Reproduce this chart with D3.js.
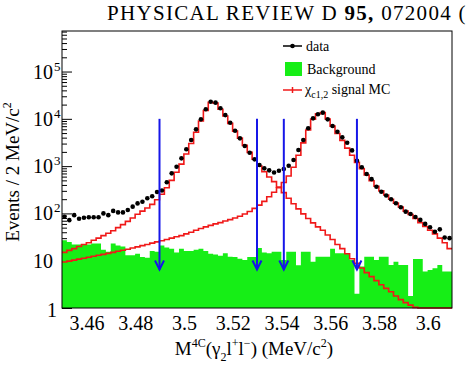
<!DOCTYPE html>
<html>
<head>
<meta charset="utf-8">
<script src="https://cdn.jsdelivr.net/npm/d3@7"></script>
<style>
  body { margin: 0; background: #fff; }
  svg { display: block; font-family: "Liberation Serif", "Times New Roman", serif; }
</style>
</head>
<body>
<div id="chart"></div>
<script>
// 80 bins of 2 MeV/c^2 from 3.45 to 3.61
const binStart = 3.45
const binWidth = 0.002

const dataCounts = [
  85, 72, 92, 77, 81, 83, 83, 83, 100, 92,
  113, 105, 105, 118, 139, 163, 177, 209, 230, 284,
  306, 455, 704, 971, 1460, 2270, 3560, 6000, 9750, 15900,
  23000, 22000, 16700, 12000, 8280, 5600, 3870, 2660, 1920, 1390,
  1055, 898, 815, 735, 800, 868, 1020, 1345, 2190, 3560,
  6300, 10250, 12500, 13500, 9750, 7040, 5340, 4060, 3125, 2150,
  1300, 950, 680, 530, 367, 288, 239, 199, 164, 135,
  109, 97, 84, 73, 60, 51, 41, 46, 31, 30
]

const chic1MC = [
  15, 16.5, 18, 20, 22, 24, 27, 30, 34, 38,
  43, 50, 58, 68, 80, 96, 112, 130, 155, 195,
  255, 350, 500, 740, 1100, 1800, 3000, 5200, 9000, 15000,
  22500, 21500, 16000, 11500, 8000, 5500, 3900, 2750, 1950, 1400,
  1000, 760, 590, 470, 360, 275, 210, 160, 125, 98,
  78, 63, 52, 44, 35, 28, 22, 18, 14, 11,
  8.8, 7, 5.6, 4.6, 3.8, 3.1, 2.6, 2.2, 1.8, 1.5,
  1.3, 1.15, 1.03, 0.95, 0.85, 0.75, 0.7, 0.62, 0.55, 0.5
]

const chic2MC = [
  9.4, 9.8, 10.3, 10.8, 11.3, 11.8, 12.4, 13, 13.6, 14.3,
  15, 15.8, 16.6, 17.5, 18.5, 19.6, 20.8, 22, 23.5, 25,
  26.5, 28, 30, 32, 34, 37, 40, 44, 48, 52,
  56, 60, 64, 69, 74, 80, 87, 97, 110, 128,
  150, 180, 225, 280, 350, 450, 620, 950, 1700, 3100,
  5800, 9800, 12800, 13500, 9900, 7000, 4900, 3500, 2400, 1700,
  1200, 880, 650, 490, 375, 300, 245, 200, 165, 137,
  112, 95, 78, 64, 53, 44, 37, 30, 24, 18
]

const background = [
  27, 25, 22, 22, 22, 22, 23, 23, 17, 15.5,
  23, 21, 20, 13, 13, 14, 12, 11.6, 16, 15.5,
  21, 19, 18, 15, 18, 16, 16, 17, 18, 16,
  14, 13.6, 12.8, 14.3, 12.2, 12, 11, 10.3, 12, 12,
  18.5, 15, 14.4, 15.5, 15.5, 10.3, 15.5, 15.5, 8, 15.5,
  15.5, 9.5, 12.2, 12.2, 12.2, 18, 14.4, 14.4, 14.4, 10.3,
  2, 7.5, 12.2, 12.2, 10.3, 12.2, 12.2, 8.1, 9.5, 8.1,
  8.1, 1.8, 10.9, 10.9, 5.9, 6.4, 6.9, 8.1, 5.9, 5.9
]

// mass window cuts shown as arrows
const cutMasses = [3.490, 3.530, 3.541, 3.571]
const arrowTop = 1e4
const arrowTip = 6.5

const xTicks = [3.46, 3.48, 3.50, 3.52, 3.54, 3.56, 3.58, 3.60]
const xTickLabels = ["3.46", "3.48", "3.5", "3.52", "3.54", "3.56", "3.58", "3.6"]
const yDecades = [1, 10, 100, 1000, 10000, 100000]

const width = 474, height = 370
const margin = { top: 31, right: 22, bottom: 62, left: 62 }
const innerRight = width - margin.right
const innerBottom = height - margin.bottom

const svg = d3.select("#chart")
  .append("svg")
  .attr("width", width)
  .attr("height", height)

svg.append("rect").attr("width", width).attr("height", height).attr("fill", "#fff")

const x = d3.scaleLinear()
  .domain([3.45, 3.61])
  .range([margin.left, innerRight])

const y = d3.scaleLog()
  .domain([1, 7.2e5])
  .range([innerBottom, margin.top])

// values below the axis minimum get drawn on the bottom edge
const yc = v => y(Math.max(v, 1))

const steps = vals => {
  const pts = []
  vals.forEach((v, i) => {
    const lo = binStart + i * binWidth
    pts.push([lo, v], [lo + binWidth, v])
  })
  return pts
}

// Left axis ticks (drawn under the histogram, as ROOT does)
const minorTicks = []
for (let p = 0; p <= 5; p++) {
  for (let k = 2; k <= 9; k++) {
    const v = k * Math.pow(10, p)
    if (v < 7.2e5) minorTicks.push(v)
  }
}

const tickG = svg.append("g").attr("transform", `translate(${margin.left},0)`)
tickG.call(d3.axisLeft(y).tickValues(minorTicks).tickSize(-5).tickFormat(""))
tickG.append("g").call(d3.axisLeft(y).tickValues(yDecades).tickSize(-10).tickFormat(""))
tickG.selectAll(".domain").remove()
tickG.selectAll("line").attr("stroke", "#000")

// Background histogram
svg.append("path")
  .datum(steps(background))
  .attr("fill", "#16ee16")
  .attr("d", d3.area()
    .x(d => x(d[0]))
    .y0(y(1))
    .y1(d => yc(d[1])))

// Signal MC histograms
const stepLine = d3.line()
  .x(d => x(d[0]))
  .y(d => yc(d[1]))

;[chic1MC, chic2MC].forEach(vals => {
  svg.append("path")
    .datum(steps(vals))
    .attr("fill", "none")
    .attr("stroke", "#f01818")
    .attr("stroke-width", 1.6)
    .attr("d", stepLine)
})

// Data points
svg.append("g")
  .selectAll("circle")
  .data(dataCounts)
  .join("circle")
  .attr("cx", (d, i) => x(binStart + (i + 0.5) * binWidth))
  .attr("cy", d => y(d))
  .attr("r", 2.3)
  .attr("fill", "#000")

// Arrows
const arrows = svg.append("g")
  .attr("stroke", "#1616e8")
  .attr("stroke-width", 2)
  .attr("fill", "none")

cutMasses.forEach(m => {
  const ax = x(m)
  const tip = y(arrowTip)
  arrows.append("line")
    .attr("x1", ax).attr("x2", ax)
    .attr("y1", y(arrowTop)).attr("y2", tip)
  arrows.append("path")
    .attr("d", `M${ax - 4.5},${tip - 9}L${ax},${tip}L${ax + 4.5},${tip - 9}`)
})

// Frame
svg.append("rect")
  .attr("x", margin.left)
  .attr("y", margin.top)
  .attr("width", innerRight - margin.left)
  .attr("height", innerBottom - margin.top)
  .attr("fill", "none")
  .attr("stroke", "#000")
  .attr("stroke-width", 1)

// X tick labels
const xAxis = svg.append("g")
  .attr("transform", `translate(0,${innerBottom})`)
  .call(d3.axisBottom(x).tickValues(xTicks).tickSize(0).tickPadding(8)
    .tickFormat((d, i) => xTickLabels[i]))
xAxis.select(".domain").remove()
xAxis.selectAll("text")
  .attr("font-family", "Liberation Serif, serif")
  .attr("font-size", 20)
  .attr("fill", "#000")

// Y tick labels with superscript exponents
yDecades.forEach(v => {
  const ty = y(v) + 7
  const exp = Math.round(Math.log10(v))
  if (exp === 0) {
    svg.append("text").attr("x", 57).attr("y", ty + 2)
      .attr("text-anchor", "end").attr("font-size", 20).text("1")
  } else {
    svg.append("text").attr("x", 53).attr("y", ty)
      .attr("text-anchor", "end").attr("font-size", 20).text("10")
    if (exp > 1) {
      svg.append("text").attr("x", 54).attr("y", ty - 8)
        .attr("font-size", 13).text(exp)
    }
  }
})

// Axis titles
const xt = svg.append("text")
  .attr("x", 254).attr("y", 355)
  .attr("text-anchor", "middle")
  .attr("font-size", 19)
xt.append("tspan").text("M")
xt.append("tspan").attr("dy", -8).attr("font-size", 12).text("4C")
xt.append("tspan").attr("dy", 8).text("(γ")
xt.append("tspan").attr("dy", 6).attr("font-size", 12).text("2")
xt.append("tspan").attr("dy", -6).text("l")
xt.append("tspan").attr("dy", -8).attr("font-size", 12).text("+")
xt.append("tspan").attr("dy", 8).text("l")
xt.append("tspan").attr("dy", -8).attr("font-size", 12).text("−")
xt.append("tspan").attr("dy", 8).text(") (MeV/c")
xt.append("tspan").attr("dy", -8).attr("font-size", 12).text("2")
xt.append("tspan").attr("dy", 8).text(")")

const yt = svg.append("text")
  .attr("transform", "translate(19,172) rotate(-90)")
  .attr("text-anchor", "middle")
  .attr("font-size", 19)
yt.append("tspan").text("Events / 2 MeV/c")
yt.append("tspan").attr("dy", -8).attr("font-size", 12).text("2")

// Journal header, squeezed a little so it stays inside the page
const title = svg.append("text")
  .attr("x", 107).attr("y", 20)
  .attr("font-size", 21)
  .attr("letter-spacing", 1.3)
title.append("tspan").text("PHYSICAL REVIEW D ")
title.append("tspan").attr("font-weight", "bold").text("95,")
title.append("tspan").text(" 072004 (")

// Legend
const leg = svg.append("g").attr("font-size", 14)
leg.append("line").attr("x1", 283).attr("x2", 302).attr("y1", 46).attr("y2", 46)
  .attr("stroke", "#000").attr("stroke-width", 1.5)
leg.append("circle").attr("cx", 292.5).attr("cy", 46).attr("r", 2.3).attr("fill", "#000")
leg.append("text").attr("x", 306).attr("y", 51).text("data")

leg.append("rect").attr("x", 285).attr("y", 62).attr("width", 17).attr("height", 14)
  .attr("fill", "#16ee16")
leg.append("text").attr("x", 307).attr("y", 74).text("Background")

leg.append("line").attr("x1", 283).attr("x2", 302).attr("y1", 90).attr("y2", 90)
  .attr("stroke", "#f01818").attr("stroke-width", 1.5)
leg.append("line").attr("x1", 292.5).attr("x2", 292.5).attr("y1", 87).attr("y2", 93)
  .attr("stroke", "#f01818").attr("stroke-width", 1.5)
const lt = leg.append("text").attr("x", 305).attr("y", 94)
lt.append("tspan").text("χ")
lt.append("tspan").attr("dy", 4).attr("font-size", 10).text("c1,2")
lt.append("tspan").attr("dy", -4).text(" signal MC")
</script>
</body>
</html>
